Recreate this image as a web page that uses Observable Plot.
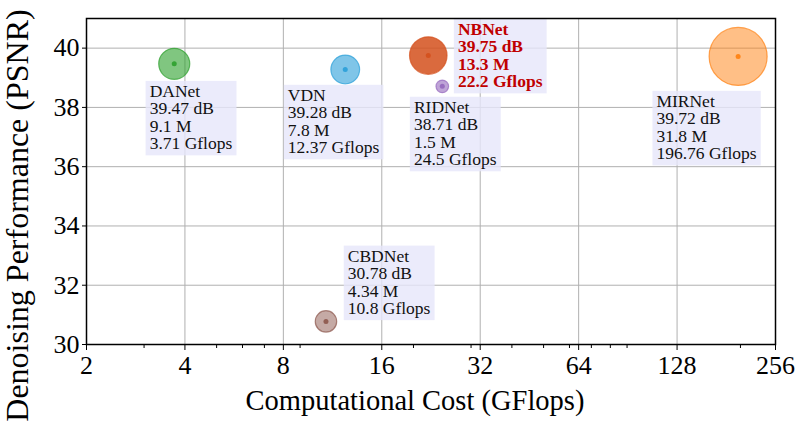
<!DOCTYPE html>
<html><head><meta charset="utf-8">
<script src="https://cdn.jsdelivr.net/npm/d3@7"></script>
<script src="https://cdn.jsdelivr.net/npm/@observablehq/plot@0.6"></script>
<style>body{margin:0;background:#fff} #chart svg{font-family:"Liberation Serif",serif}</style>
</head><body><div id="chart"></div>
<script>
// ---- data ----
const models = ["DANet", "VDN", "NBNet", "RIDNet", "MIRNet", "CBDNet"];
const gflops = [3.71, 12.37, 22.2, 24.5, 196.76, 10.8];
const psnr = [39.47, 39.28, 39.75, 38.71, 39.72, 30.78];
const params = [9.1, 7.8, 13.3, 1.5, 31.8, 4.34];
const majorX = [2, 4, 8, 16, 32, 64, 128, 256];
const minorX = [3, 5, 6, 7, 9, 20, 30, 40, 50, 60, 70, 80, 90, 200];
const yTicks = [30, 32, 34, 36, 38, 40];

// ---- styles / layout ----
const palette = {DANet: "#2ca02c", VDN: "#2a9fd8", NBNet: "#d4501c", RIDNet: "#9467bd", MIRNet: "#ff7f0e", CBDNet: "#8c564b"};
const alpha = {DANet: 0.6, VDN: 0.6, NBNet: 0.85, RIDNet: 0.6, MIRNet: 0.5, CBDNet: 0.5};
const labelOffset = {DANet: [-24.6, 20.6], VDN: [-57.4, 18.9], NBNet: [29.6, -33.1], RIDNet: [-28.4, 14], MIRNet: [-81.7, 38], CBDNet: [21.8, -72.2]};

const data = models.map((m, i) => ({model: m, gflops: gflops[i], psnr: psnr[i], params: params[i]}));

const annoMarks = data.map(d => Plot.text([d], {
  x: "gflops", y: "psnr",
  text: v => `${v.model}\n${v.psnr} dB\n${v.params} M\n${v.gflops} Gflops`,
  dx: labelOffset[d.model][0], dy: labelOffset[d.model][1],
  textAnchor: "start", lineAnchor: "top", lineHeight: 1, fontSize: 17.5,
  fill: d.model === "NBNet" ? "#c00000" : "#111",
  fontWeight: d.model === "NBNet" ? "bold" : "normal",
  ariaDescription: "anno"
}));

const plot = Plot.plot({
  width: 797, height: 432,
  marginLeft: 86, marginRight: 22, marginTop: 18, marginBottom: 88,
  x: {type: "log", base: 2, domain: [2, 256]},
  y: {domain: [30, 41]},
  r: {type: "sqrt", domain: [0, d3.max(params)], range: [0, 29]},
  color: {domain: models, range: models.map(m => palette[m])},
  style: {fontFamily: "Liberation Serif", background: "white", color: "black"},
  marks: [
    Plot.gridX(majorX, {stroke: "#b0b0b0", strokeOpacity: 1, strokeWidth: 1}),
    Plot.gridY(yTicks, {stroke: "#b0b0b0", strokeOpacity: 1, strokeWidth: 1}),
    Plot.dot(data, {x: "gflops", y: "psnr", r: "params", fill: "model", fillOpacity: d => alpha[d.model], stroke: "model", strokeOpacity: 0.7, strokeWidth: 1.2}),
    Plot.dot(data, {x: "gflops", y: "psnr", r: 2.5, fill: "model", fillOpacity: 0.9, stroke: "none"}),
    ...annoMarks,
    Plot.frame({stroke: "black", strokeWidth: 1.5}),
    Plot.axisX(majorX, {tickSize: 6, tickPadding: 5, fontSize: 26, tickFormat: d => String(d), label: null}),
    Plot.axisX(minorX, {tickSize: 4, tickFormat: () => "", label: null}),
    Plot.axisY(yTicks, {tickSize: 4, tickPadding: 3, fontSize: 26, label: null}),
    Plot.text(["Computational Cost (GFlops)"], {text: d => d, frameAnchor: "bottom", textAnchor: "middle", dx: -16, dy: 56, fontSize: 28.5, lineAnchor: "middle"}),
    Plot.text(["Denoising Performance (PSNR)"], {text: d => d, frameAnchor: "left", textAnchor: "middle", rotate: -90, dx: -69, dy: 34, fontSize: 32, lineAnchor: "middle"})
  ]
});
document.getElementById("chart").append(plot);

// background boxes behind annotation texts
const NS = "http://www.w3.org/2000/svg";
plot.querySelectorAll('g[aria-description="anno"] text').forEach(t => {
  const b = t.getBBox();
  const r = document.createElementNS(NS, "rect");
  r.setAttribute("x", b.x - 4);
  r.setAttribute("y", b.y + 0);
  r.setAttribute("width", b.width + 8);
  r.setAttribute("height", b.height + 2);
  r.setAttribute("fill", "#e6e6fa");
  r.setAttribute("fill-opacity", 0.8);
  r.setAttribute("stroke", "none");
  const tr = t.getAttribute("transform");
  if (tr) r.setAttribute("transform", tr);
  t.parentNode.insertBefore(r, t);
});
</script>
</body></html>
